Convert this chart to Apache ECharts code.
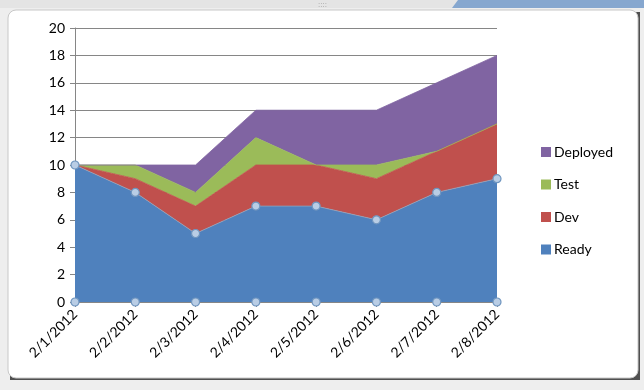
<!DOCTYPE html>
<html>
<head>
<meta charset="utf-8">
<script src="https://cdn.jsdelivr.net/npm/echarts@6/dist/echarts.min.js"></script>
<style>html,body{margin:0;padding:0;background:#fff;}#c{width:644px;height:390px;}</style>
</head>
<body>
<div id="c"></div>
<script>
const categories = ['2/1/2012','2/2/2012','2/3/2012','2/4/2012','2/5/2012','2/6/2012','2/7/2012','2/8/2012'];
const ready    = [10, 8, 5, 7, 7, 6, 8, 9];
const dev      = [0, 1, 2, 3, 3, 3, 3, 4];
const test     = [0, 1, 1, 2, 0, 1, 0, 0];
const deployed = [0, 0, 2, 2, 4, 4, 5, 5];
const baseline = [0, 0, 0, 0, 0, 0, 0, 0];
const yTicks = [0, 2, 4, 6, 8, 10, 12, 14, 16, 18, 20];

const FONT = 'Lato, "Open Sans", sans-serif';
const chart = echarts.init(document.getElementById('c'), null, {renderer: 'canvas'});

const handleStyle = {color: '#b9cde5', borderColor: '#6f95bf', borderWidth: 1.2};
const colors = {Ready: '#4f81bd', Dev: '#c0504d', Test: '#9bbb59', Deployed: '#8064a2'};

function areaSeries(name, data, withMarkers) {
  const color = colors[name];
  return {
    name, type: 'line', stack: 'total', data,
    color,
    areaStyle: {color, opacity: 1},
    lineStyle: {width: 0.8, color: withMarkers ? '#8fa3bd' : color},
    itemStyle: withMarkers ? handleStyle : {color},
    symbol: withMarkers ? 'circle' : 'none',
    symbolSize: 8,
    showSymbol: withMarkers,
    emphasis: {disabled: true},
    animation: false
  };
}

chart.setOption({
  animation: false,
  backgroundColor: '#ffffff',
  graphic: [
    {type: 'rect', shape: {x: 0, y: 0, width: 644, height: 390}, style: {fill: '#eeeeee'}, z: -10, silent: true},
    {type: 'rect', shape: {x: 0, y: 0, width: 644, height: 8}, style: {fill: '#e4e4e4'}, z: -9, silent: true},
    {type: 'polygon', shape: {points: [[452, 8], [458, 0], [644, 0], [644, 8]]}, style: {fill: '#86a7cf'}, z: -9, silent: true},
    {type: 'rect', shape: {x: 10, y: 12, width: 630, height: 368}, style: {fill: '#505050'}, z: -8, silent: true},
    {type: 'rect', shape: {x: 8, y: 10, width: 630, height: 368, r: 8}, style: {fill: '#ffffff', stroke: '#c8c8c8', lineWidth: 1}, z: -7, silent: true},
    {type: 'text', left: 318, top: 1, style: {text: '::::', fill: '#a0a0a0', font: '8px sans-serif'}, z: -6, silent: true}
  ],
  grid: {left: 75, right: 147, top: 28, bottom: 88, containLabel: false},
  legend: {
    orient: 'vertical', left: 536, top: 140,
    data: ['Deployed', 'Test', 'Dev', 'Ready'].map(n => ({name: n, itemStyle: {color: colors[n], borderWidth: 0}})),
    itemWidth: 10, itemHeight: 10, itemGap: 18.5,
    icon: 'rect',
    textStyle: {fontFamily: FONT, fontSize: 14, color: '#000', padding: [0, 0, 0, -2]},
    selectedMode: false
  },
  xAxis: {
    type: 'category', data: categories, boundaryGap: false,
    axisLine: {show: true, lineStyle: {color: '#868686', width: 1}},
    axisTick: {show: true, alignWithLabel: true, length: 5, lineStyle: {color: '#868686'}},
    axisLabel: {rotate: 45, margin: 10, fontFamily: FONT, fontSize: 14, color: '#000', interval: 0},
    splitLine: {show: false}
  },
  yAxis: {
    type: 'value', min: yTicks[0], max: yTicks[yTicks.length - 1], interval: 2,
    axisLine: {show: true, lineStyle: {color: '#868686', width: 1}},
    axisTick: {show: true, length: 5, lineStyle: {color: '#868686'}},
    axisLabel: {margin: 10, fontFamily: FONT, fontSize: 14, color: '#000'},
    splitLine: {show: true, lineStyle: {color: '#868686', width: 1}}
  },
  series: [
    areaSeries('Ready', ready, true),
    areaSeries('Dev', dev, false),
    areaSeries('Test', test, false),
    areaSeries('Deployed', deployed, false),
    {
      name: 'handles', type: 'line', data: baseline,
      lineStyle: {width: 0}, symbol: 'circle', symbolSize: 8, showSymbol: true,
      itemStyle: handleStyle, z: 5, emphasis: {disabled: true}, animation: false
    }
  ]
});
</script>
</body>
</html>
